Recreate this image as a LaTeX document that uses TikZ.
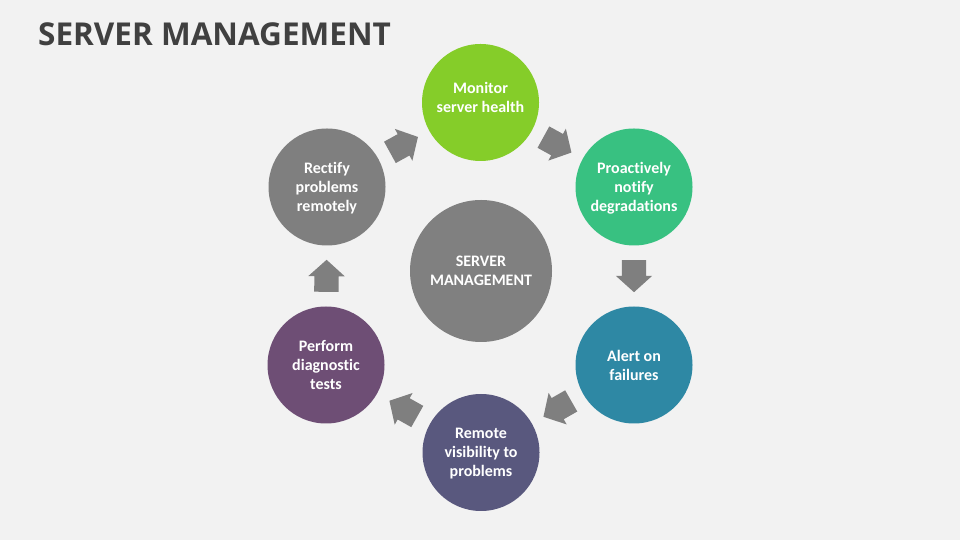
\documentclass[tikz,border=0pt]{standalone}
\usepackage{fontspec}
\setmainfont{Carlito}[Ligatures=NoCommon]
\newfontfamily\titlefont{Open Sans}
\usetikzlibrary{shapes.arrows}
\definecolor{bgcol}{RGB}{242,242,242}
\definecolor{titlecol}{RGB}{64,64,64}
\definecolor{arrowcol}{RGB}{127,127,127}
\definecolor{moncol}{RGB}{133,205,41}
\definecolor{procol}{RGB}{56,193,129}
\definecolor{alecol}{RGB}{46,136,164}
\definecolor{remcol}{RGB}{89,88,126}
\definecolor{percol}{RGB}{110,78,117}
\definecolor{reccol}{RGB}{127,127,127}
\definecolor{midcol}{RGB}{128,128,128}
\begin{document}
\begin{tikzpicture}[x=1pt, y=1pt,
  stage/.style={circle, minimum size=117pt, inner sep=0pt, align=center,
    text=white, font=\bfseries\fontsize{16}{19}\selectfont},
  flow/.style={single arrow, draw=none, fill=arrowcol, inner xsep=0pt, inner ysep=12pt,
    minimum height=32pt, minimum width=36pt, single arrow head extend=6pt,
    single arrow tip angle=96, allow upside down, sloped, anchor=tail, xshift=-16pt}]
\useasboundingbox (0,0) rectangle (960,540);
\fill[bgcol] (0,0) rectangle (960,540);
\node[anchor=base west, inner sep=0pt, text=titlecol, font=\titlefont\bfseries\fontsize{31.5}{37}\selectfont] (title) at (38,494) {SERVER MANAGEMENT};
\node[stage, fill=midcol, minimum size=142pt] (hub) at (481,269) {SERVER\\MANAGEMENT};
\node[stage, fill=moncol, text depth=10pt] (mon) at (480.5,437.5) {Monitor\\server health};
\node[stage, fill=procol, text depth=0pt] (pro) at (634,353) {Proactively\\notify\\degradations};
\node[stage, fill=alecol] (ale) at (634,175) {Alert on\\failures};
\node[stage, fill=remcol, text depth=0pt] (rem) at (481,87.5) {Remote\\visibility to\\problems};
\node[stage, fill=percol] (per) at (326,175) {Perform\\diagnostic\\tests};
\node[stage, fill=reccol, text depth=0pt] (rec) at (327,353) {Rectify\\problems\\remotely};
\path (mon) -- (pro) node[flow, midway] (a1) {};
\path (pro) -- (ale) node[flow, midway] (a2) {};
\path (ale) -- (rem) node[flow, midway] (a3) {};
\path (rem) -- (per) node[flow, midway] (a4) {};
\path (per) -- (rec) node[flow, midway] (a5) {};
\path (rec) -- (mon) node[flow, midway] (a6) {};
\end{tikzpicture}
\end{document}
